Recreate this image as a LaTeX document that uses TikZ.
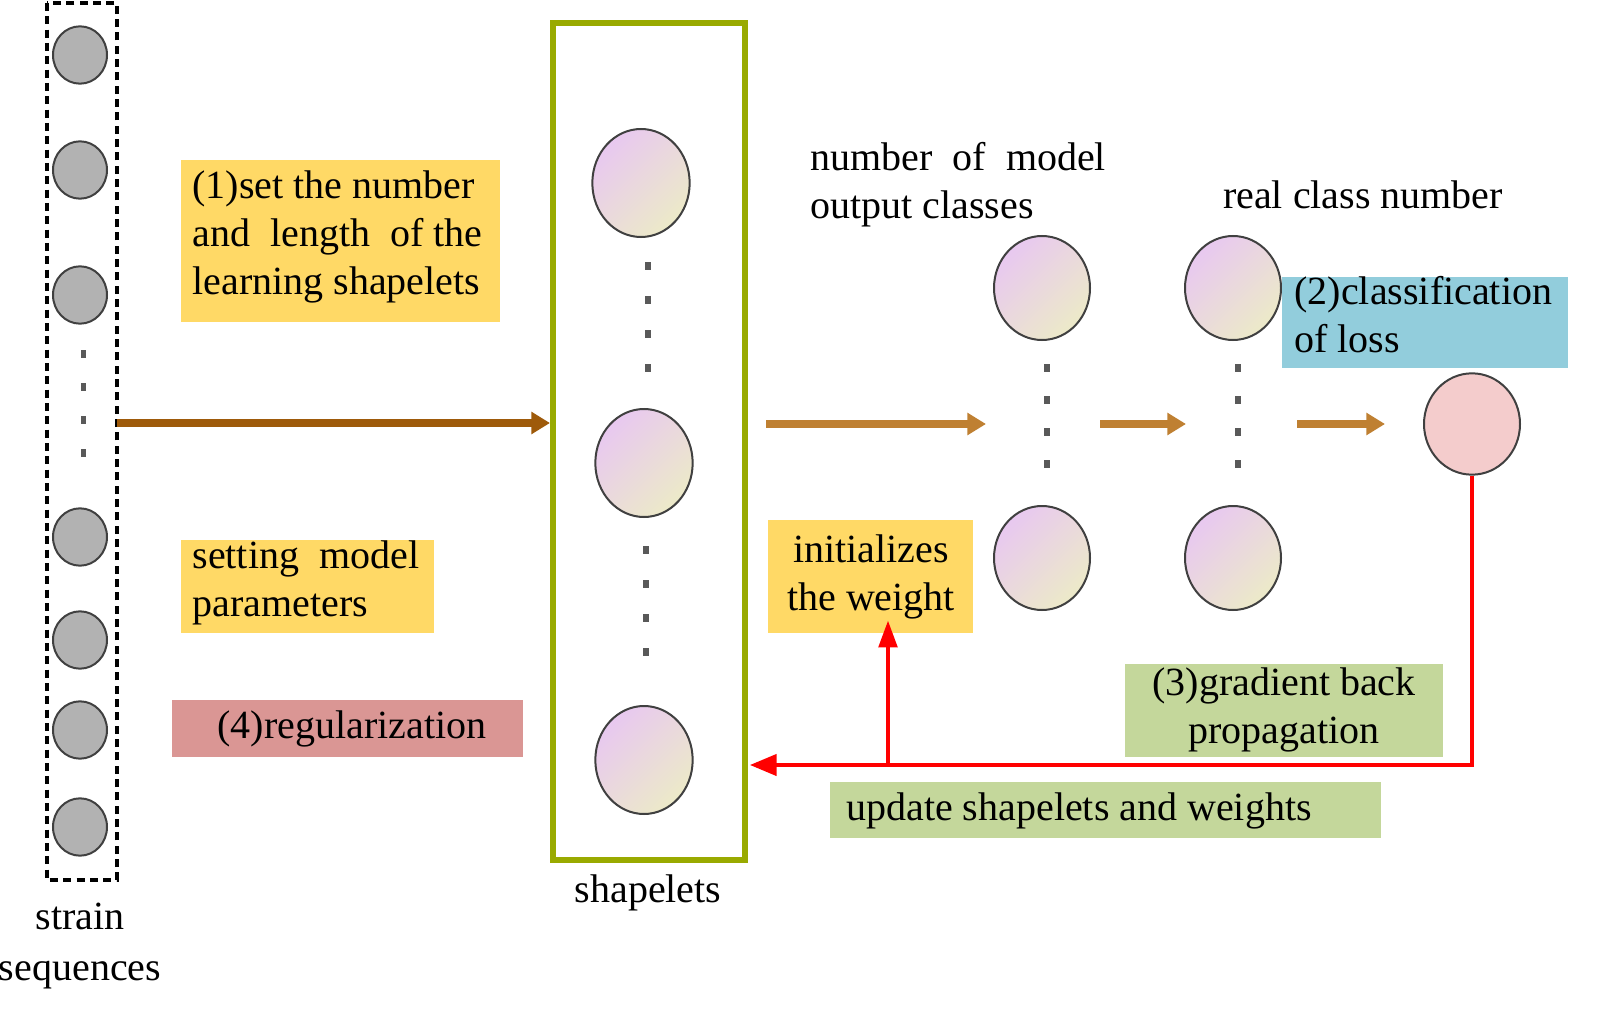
\documentclass[tikz,border=0pt]{standalone}
\usepackage{fontspec}
\setmainfont{Liberation Serif}
\usetikzlibrary{arrows.meta}
\definecolor{boxyellow}{RGB}{255,217,102}
\definecolor{boxred}{RGB}{218,150,148}
\definecolor{boxblue}{RGB}{146,205,220}
\definecolor{boxgreen}{RGB}{196,215,155}
\definecolor{olive}{RGB}{153,170,0}
\definecolor{darkarrow}{RGB}{158,90,10}
\definecolor{lightarrow}{RGB}{191,128,50}
\definecolor{nodepink}{RGB}{232,200,240}
\definecolor{nodecream}{RGB}{236,234,200}
\definecolor{losspink}{RGB}{244,204,204}
\tikzset{every picture/.style={line width=0.75pt}}
\tikzset{
  txt/.style={font=\fontsize{30}{36}\selectfont, inner sep=0.75pt, align=left},
  box/.style={txt, inner sep=0pt, anchor=north west},
  gray node/.style={ellipse, draw=black!75, line width=1.5pt, fill=black!30, minimum width=40.5, minimum height=43},
  grad node/.style={ellipse, draw=black!75, line width=1.5pt, left color=nodepink, right color=nodecream, shading angle=45, minimum width=72, minimum height=78},
  flow/.style={-{Triangle[length=14pt,width=16pt]}, line width=6pt},
  feedback/.style={red, line width=2.5pt},
}
\usetikzlibrary{shapes.geometric}
\begin{document}
\begin{tikzpicture}[x=0.75pt,y=0.75pt,yscale=-1,xscale=1]
    \useasboundingbox (0,0) rectangle (1600,1013);

    % strain sequences
    \draw [dashed, line width=3pt, dash pattern=on 6pt off 4pt] (47,3) rectangle (117,880);
    \foreach \y/\n in {55/s1,170/s2,295/s3,537/s4,640/s5,730/s6,827/s7}
      \node [gray node] (\n) at (80,\y) {};
    \foreach \y in {350,383,416,449}
      \fill [black!65] (81,\y) rectangle (86,\y+8);
    \node [txt, align=center] (strainlbl) at (80,946) {strain\\[2pt]sequences};

    % shapelets
    \draw [olive, line width=4.5pt] (553,23) rectangle (745,860);
    \node [grad node, minimum width=73, minimum height=81] (p1) at (641,183) {};
    \node [grad node, minimum width=73, minimum height=81] (p2) at (644,463) {};
    \node [grad node, minimum width=73, minimum height=81] (p3) at (644,760) {};
    \foreach \y in {262,296,330,364}
      \fill [black!65] (645,\y) rectangle (651,\y+8);
    \foreach \y in {546,580,614,648}
      \fill [black!65] (643,\y) rectangle (649,\y+8);
    \node [txt] (shplbl) at (648,893) {shapelets};

    % output columns
    \node [grad node] (o1) at (1042,288) {};
    \node [grad node] (o2) at (1042,558) {};
    \node [grad node] (r1) at (1233,288) {};
    \node [grad node] (r2) at (1233,558) {};
    \foreach \y in {364,396,428,460}
      \fill [black!65] (1044,\y) rectangle (1050,\y+8);
    \foreach \y in {364,396,428,460}
      \fill [black!65] (1235,\y) rectangle (1241,\y+8);
    \node [ellipse, draw=black!75, line width=1.5pt, fill=losspink, minimum width=72, minimum height=76] (loss) at (1472,424) {};

    % boxes
    \fill [boxyellow] (181,160) rectangle (500,322);
    \node [box] (setnum) at (192,170) {(1)set the number\\and \ length \ of the\\learning shapelets};
    \fill [boxyellow] (181,540) rectangle (434,633);
    \node [box] (setpar) at (192,540) {setting \ model\\parameters};
    \fill [boxred] (172,700) rectangle (523,757);
    \node [txt] (regul) at (352,729) {(4)regularization};
    \fill [boxblue] (1282,277) rectangle (1568,368);
    \node [box] (classif) at (1294,276) {(2)classification\\of loss};
    \fill [boxyellow] (768,520) rectangle (973,633);
    \node [txt, align=center] (init) at (871,577) {initializes\\the weight};
    \fill [boxgreen] (1125,664) rectangle (1443,757);
    \node [txt, align=center] (grad) at (1284,710) {(3)gradient back\\propagation};
    \fill [boxgreen] (830,782) rectangle (1381,838);
    \node [txt] (update) at (1079,811) {update shapelets and weights};
    \node [box] (nummodel) at (810,142) {number \ of \ model\\output classes};
    \node [txt] (realcls) at (1363,195) {real class number};

    % flow arrows
    \coordinate (a1) at (117,423);
    \coordinate (a2) at (550,423);
    \draw [flow, darkarrow] (a1) -- (a2);
    \coordinate (b1) at (766,424);
    \coordinate (b2) at (986,424);
    \draw [flow, lightarrow] (b1) -- (b2);
    \coordinate (c1) at (1100,424);
    \coordinate (c2) at (1186,424);
    \draw [flow, lightarrow] (c1) -- (c2);
    \coordinate (d1) at (1297,424);
    \coordinate (d2) at (1385,424);
    \draw [flow, lightarrow] (d1) -- (d2);

    % feedback
    \coordinate (fb) at (1476,765);
    \coordinate (fl) at (750,765);
    \coordinate (fj) at (888,765);
    \draw [feedback, -{Triangle[length=20pt,width=16pt]}] (loss.south) -- (loss.south |- fb) -- (fl);
    \draw [feedback, -{Triangle[length=20pt,width=14pt]}] (fj) -- (init.south -| fj);
\end{tikzpicture}
\end{document}
